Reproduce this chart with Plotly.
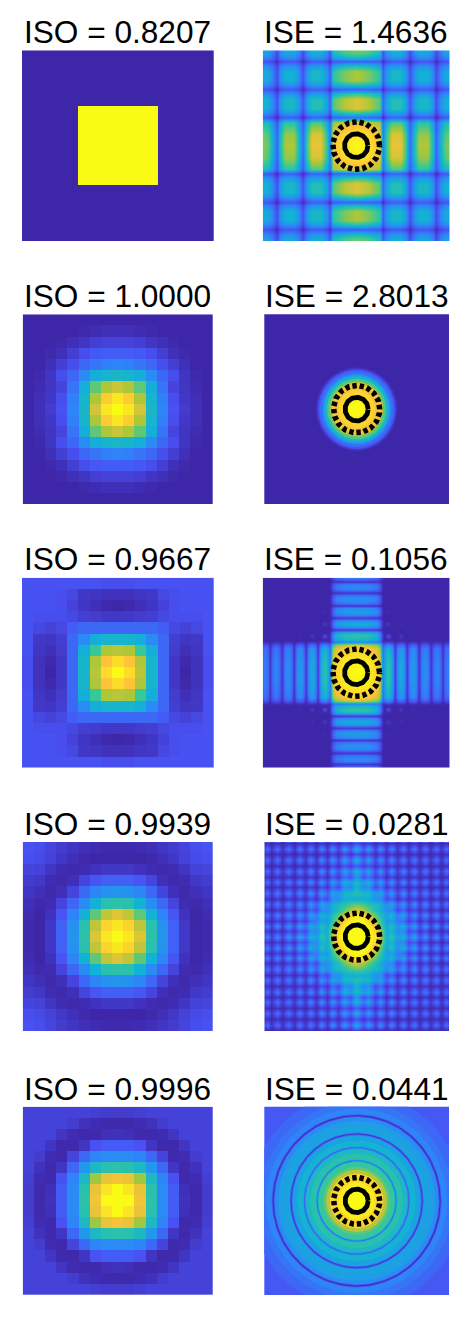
import numpy as np
import plotly.graph_objects as go
from plotly.colors import sample_colorscale

W = 474
H = 1322

iso_titles = ["ISO = 0.8207", "ISO = 1.0000", "ISO = 0.9667", "ISO = 0.9939", "ISO = 0.9996"]
ise_titles = ["ISE = 1.4636", "ISE = 2.8013", "ISE = 0.1056", "ISE = 0.0281", "ISE = 0.0441"]

parula = [
    [0.0, "#3e26a8"], [0.143, "#4852f4"], [0.286, "#2d87f7"], [0.429, "#12b1d6"],
    [0.571, "#37c897"], [0.714, "#abc739"], [0.857, "#fec338"], [1.0, "#f9fb15"],
]

# left column, one quadrant each (corner -> centre), mirrored when drawn
iso_1 = [
    [0, 0, 0, 0, 0, 0, 0, 0, 0],
    [0, 0, 0, 0, 0, 0, 0, 0, 0],
    [0, 0, 0, 0, 0, 0, 0, 0, 0],
    [0, 0, 0, 0, 0, 0, 0, 0, 0],
    [0, 0, 0, 0, 0, 0, 0, 0, 0],
    [0, 0, 0, 0, 0, 1, 1, 1, 1],
    [0, 0, 0, 0, 0, 1, 1, 1, 1],
    [0, 0, 0, 0, 0, 1, 1, 1, 1],
    [0, 0, 0, 0, 0, 1, 1, 1, 1],
]
iso_2 = [
    [0, 0, 0, 0, 0, 0, 0, 0, 0],
    [0, 0, 0, 0, 0, 0.01, 0.02, 0.03, 0.03],
    [0, 0, 0, 0.01, 0.03, 0.05, 0.08, 0.09, 0.09],
    [0, 0, 0.01, 0.03, 0.08, 0.13, 0.16, 0.17, 0.17],
    [0, 0, 0.03, 0.08, 0.13, 0.2, 0.24, 0.27, 0.28],
    [0, 0.01, 0.05, 0.13, 0.2, 0.3, 0.42, 0.45, 0.46],
    [0, 0.02, 0.05, 0.1, 0.24, 0.42, 0.62, 0.72, 0.76],
    [0, 0.03, 0.06, 0.13, 0.27, 0.45, 0.72, 0.88, 0.95],
    [0, 0.03, 0.07, 0.14, 0.28, 0.46, 0.78, 0.95, 1.0],
]
iso_3 = [
    [0.14, 0.14, 0.14, 0.14, 0.14, 0.14, 0.14, 0.13, 0.13],
    [0.14, 0.14, 0.14, 0.13, 0.11, 0.06, 0.05, 0.04, 0.04],
    [0.14, 0.14, 0.14, 0.13, 0.09, 0.05, 0.03, 0.01, 0.0],
    [0.14, 0.13, 0.13, 0.13, 0.11, 0.08, 0.07, 0.06, 0.06],
    [0.14, 0.11, 0.09, 0.11, 0.17, 0.2, 0.2, 0.2, 0.2],
    [0.14, 0.06, 0.05, 0.08, 0.2, 0.3, 0.42, 0.45, 0.45],
    [0.14, 0.05, 0.03, 0.07, 0.2, 0.42, 0.57, 0.72, 0.74],
    [0.13, 0.04, 0.01, 0.06, 0.2, 0.45, 0.72, 0.86, 0.92],
    [0.13, 0.04, 0.0, 0.06, 0.2, 0.45, 0.74, 0.92, 1.0],
]
iso_4 = [
    [0.14, 0.13, 0.1, 0.07, 0.05, 0.03, 0.02, 0.01, 0.01],
    [0.13, 0.12, 0.09, 0.06, 0.03, 0.01, 0.0, 0.0, 0.0],
    [0.1, 0.09, 0.05, 0.02, 0.01, 0.02, 0.04, 0.06, 0.06],
    [0.07, 0.06, 0.02, 0.01, 0.03, 0.1, 0.15, 0.18, 0.18],
    [0.05, 0.03, 0.01, 0.03, 0.1, 0.2, 0.28, 0.32, 0.33],
    [0.03, 0.01, 0.02, 0.1, 0.2, 0.3, 0.43, 0.52, 0.53],
    [0.02, 0.0, 0.04, 0.15, 0.28, 0.43, 0.62, 0.75, 0.8],
    [0.01, 0.0, 0.06, 0.18, 0.32, 0.52, 0.75, 0.9, 0.95],
    [0.01, 0.0, 0.06, 0.18, 0.33, 0.53, 0.8, 0.95, 1.0],
]
iso_5 = [
    [0.09, 0.09, 0.09, 0.09, 0.09, 0.09, 0.08, 0.07, 0.07],
    [0.09, 0.09, 0.09, 0.09, 0.07, 0.04, 0.02, 0.01, 0.01],
    [0.09, 0.09, 0.09, 0.05, 0.02, 0.01, 0.01, 0.03, 0.04],
    [0.09, 0.09, 0.05, 0.01, 0.01, 0.05, 0.14, 0.17, 0.17],
    [0.09, 0.07, 0.02, 0.01, 0.1, 0.2, 0.28, 0.3, 0.3],
    [0.09, 0.04, 0.01, 0.05, 0.2, 0.34, 0.47, 0.52, 0.53],
    [0.08, 0.02, 0.01, 0.14, 0.28, 0.47, 0.7, 0.82, 0.84],
    [0.07, 0.01, 0.03, 0.17, 0.3, 0.52, 0.82, 0.94, 1.0],
    [0.07, 0.01, 0.04, 0.17, 0.3, 0.53, 0.84, 1.0, 1.0],
]

# right column, first panel: centre -> edge
ise1_x = [0, 0.12, 0.25, 0.28, 0.32, 0.375, 0.475, 0.53, 0.57, 0.61, 0.665, 0.76, 0.815, 0.855, 0.895, 0.95, 1.0]
ise1_y = [0, 0.12, 0.25, 0.295, 0.335, 0.39, 0.49, 0.545, 0.59, 0.63, 0.685, 0.785, 0.84, 0.88, 0.92, 0.97, 1.0]
ise_1 = [
    [1, 0.95, 0.85, 0.25, 0.55, 0.82, 0.82, 0.58, 0.2, 0.48, 0.72, 0.72, 0.48, 0.18, 0.42, 0.63, 0.68],
    [0.95, 0.92, 0.82, 0.24, 0.53, 0.79, 0.79, 0.55, 0.19, 0.46, 0.69, 0.69, 0.46, 0.17, 0.4, 0.6, 0.65],
    [0.82, 0.78, 0.7, 0.2, 0.42, 0.6, 0.6, 0.44, 0.16, 0.36, 0.54, 0.54, 0.36, 0.14, 0.32, 0.47, 0.5],
    [0.2, 0.19, 0.16, 0.03, 0.12, 0.18, 0.18, 0.12, 0.03, 0.12, 0.16, 0.16, 0.12, 0.03, 0.11, 0.15, 0.16],
    [0.52, 0.48, 0.4, 0.12, 0.27, 0.35, 0.35, 0.28, 0.1, 0.25, 0.33, 0.33, 0.25, 0.09, 0.22, 0.3, 0.31],
    [0.8, 0.74, 0.6, 0.18, 0.37, 0.5, 0.5, 0.38, 0.15, 0.34, 0.46, 0.46, 0.34, 0.13, 0.3, 0.42, 0.44],
    [0.8, 0.74, 0.6, 0.18, 0.37, 0.5, 0.5, 0.38, 0.15, 0.34, 0.46, 0.46, 0.34, 0.13, 0.3, 0.42, 0.44],
    [0.55, 0.5, 0.42, 0.13, 0.27, 0.35, 0.35, 0.28, 0.1, 0.25, 0.33, 0.33, 0.25, 0.09, 0.22, 0.3, 0.31],
    [0.18, 0.18, 0.15, 0.03, 0.12, 0.17, 0.17, 0.12, 0.03, 0.12, 0.16, 0.16, 0.12, 0.03, 0.11, 0.15, 0.15],
    [0.48, 0.45, 0.38, 0.12, 0.25, 0.33, 0.33, 0.25, 0.1, 0.23, 0.3, 0.3, 0.23, 0.09, 0.2, 0.28, 0.29],
    [0.72, 0.66, 0.54, 0.16, 0.34, 0.46, 0.46, 0.35, 0.13, 0.31, 0.43, 0.43, 0.31, 0.12, 0.27, 0.4, 0.41],
    [0.72, 0.66, 0.54, 0.16, 0.34, 0.46, 0.46, 0.35, 0.13, 0.31, 0.43, 0.43, 0.31, 0.12, 0.27, 0.4, 0.41],
    [0.48, 0.45, 0.36, 0.12, 0.25, 0.33, 0.33, 0.25, 0.1, 0.23, 0.3, 0.3, 0.23, 0.09, 0.2, 0.28, 0.29],
    [0.17, 0.17, 0.15, 0.03, 0.11, 0.16, 0.16, 0.11, 0.03, 0.11, 0.15, 0.15, 0.11, 0.03, 0.1, 0.14, 0.14],
    [0.44, 0.4, 0.33, 0.11, 0.23, 0.3, 0.3, 0.23, 0.09, 0.21, 0.28, 0.28, 0.21, 0.08, 0.18, 0.26, 0.27],
    [0.62, 0.58, 0.47, 0.14, 0.3, 0.42, 0.42, 0.31, 0.12, 0.28, 0.39, 0.39, 0.28, 0.11, 0.25, 0.36, 0.37],
    [0.66, 0.62, 0.5, 0.15, 0.33, 0.44, 0.44, 0.33, 0.13, 0.3, 0.41, 0.41, 0.3, 0.12, 0.27, 0.38, 0.39],
]

# second and fifth panels are round: radius and level, outermost first
ise2_radii = [1.5, 0.44, 0.42, 0.4, 0.37, 0.35, 0.32, 0.29, 0.27, 0.2, 0.1, 0.08]
ise2_levels = [0, 0.05, 0.14, 0.22, 0.33, 0.45, 0.6, 0.72, 0.84, 0.9, 0.97, 1.0]
ise5_radii = [1.45, 1.15, 1.05, 0.98, 0.92, 0.91, 0.9, 0.89, 0.85, 0.8, 0.725, 0.715, 0.705, 0.695,
              0.64, 0.58, 0.572, 0.562, 0.55, 0.5, 0.44, 0.432, 0.424, 0.415, 0.36, 0.33, 0.29, 0.2, 0.1]
ise5_levels = [0.16, 0.2, 0.24, 0.28, 0.16, 0.02, 0.12, 0.3, 0.36, 0.38, 0.22, 0.05, 0.2, 0.38,
               0.44, 0.38, 0.16, 0.34, 0.47, 0.52, 0.42, 0.18, 0.42, 0.56, 0.62, 0.74, 0.9, 0.96, 1.0]

# third panel: the two arms of the cross and the small dots beside them
ise3_x = [0, 0.12, 0.22, 0.255, 0.285, 0.305, 0.34, 0.375, 0.41, 0.44, 0.475, 0.51, 0.54, 0.57, 0.607,
          0.64, 0.67, 0.7, 0.735, 0.77, 0.8, 0.825, 0.86, 0.895, 0.92, 0.945, 0.975, 1.0]
ise3_y = [0, 0.12, 0.25, 0.29, 0.325, 0.35, 0.39, 0.425, 0.45, 0.48, 0.515, 0.55, 0.58, 0.61, 0.645,
          0.68, 0.71, 0.74, 0.777, 0.81, 0.84, 0.87, 0.905, 0.935, 0.96, 0.985, 1.0]
ise3_arm_h = [
    [1, 0.98, 0.9, 0.85, 0.25, 0.42, 0.55, 0.42, 0.07, 0.34, 0.42, 0.34, 0.06, 0.3, 0.36, 0.3, 0.05, 0.27, 0.32, 0.27, 0.05, 0.24, 0.3, 0.24, 0.05, 0.22, 0.27, 0.23],
    [0.98, 0.97, 0.88, 0.8, 0.24, 0.41, 0.53, 0.41, 0.07, 0.33, 0.41, 0.33, 0.06, 0.29, 0.35, 0.29, 0.05, 0.26, 0.31, 0.26, 0.05, 0.23, 0.29, 0.23, 0.05, 0.21, 0.26, 0.22],
    [0.9, 0.88, 0.8, 0.7, 0.2, 0.35, 0.46, 0.35, 0.06, 0.28, 0.36, 0.28, 0.05, 0.25, 0.31, 0.25, 0.04, 0.23, 0.27, 0.23, 0.04, 0.2, 0.25, 0.2, 0.04, 0.18, 0.23, 0.19],
    [0.8, 0.75, 0.68, 0.55, 0.14, 0.22, 0.3, 0.22, 0.04, 0.17, 0.22, 0.17, 0.03, 0.15, 0.19, 0.15, 0.03, 0.14, 0.17, 0.14, 0.03, 0.12, 0.15, 0.12, 0.03, 0.11, 0.14, 0.12],
    [0.3, 0.28, 0.25, 0.2, 0.04, 0.05, 0.07, 0.05, 0.01, 0.04, 0.05, 0.04, 0.01, 0.03, 0.04, 0.03, 0, 0.03, 0.04, 0.03, 0, 0.03, 0.03, 0.03, 0, 0.02, 0.03, 0.03],
]
ise3_arm_v = [
    [0.46, 0.45, 0.38, 0.24, 0.03],
    [0.55, 0.53, 0.45, 0.3, 0.04],
    [0.46, 0.45, 0.38, 0.24, 0.03],
    [0.07, 0.07, 0.06, 0.04, 0.0],
    [0.34, 0.33, 0.28, 0.17, 0.01],
    [0.42, 0.41, 0.35, 0.21, 0.02],
    [0.34, 0.33, 0.28, 0.17, 0.01],
    [0.06, 0.06, 0.05, 0.03, 0.0],
    [0.3, 0.29, 0.25, 0.15, 0.01],
    [0.37, 0.36, 0.3, 0.18, 0.01],
    [0.3, 0.29, 0.25, 0.15, 0.01],
    [0.05, 0.05, 0.04, 0.03, 0.0],
    [0.27, 0.26, 0.22, 0.13, 0.01],
    [0.33, 0.32, 0.27, 0.16, 0.01],
    [0.27, 0.26, 0.22, 0.13, 0.01],
    [0.05, 0.05, 0.04, 0.03, 0.0],
    [0.25, 0.24, 0.2, 0.12, 0.01],
    [0.3, 0.3, 0.25, 0.15, 0.01],
    [0.25, 0.24, 0.2, 0.12, 0.01],
    [0.05, 0.05, 0.04, 0.03, 0.0],
    [0.2, 0.2, 0.16, 0.1, 0.01],
    [0.25, 0.24, 0.2, 0.12, 0.01],
]
ise3_dots_x = [0.34, 0.475, 0.607]
ise3_dots_y = [0.39, 0.515, 0.645]
ise3_dots = [
    [0.15, 0.07, 0.02],
    [0.07, 0.03, 0.0],
    [0.02, 0.0, 0.0],
]

# fourth panel: warped lattice
ise4_x = [0, 0.07, 0.13, 0.2, 0.26, 0.32, 0.38, 0.44, 0.5, 0.56, 0.62, 0.68, 0.74, 0.8, 0.86, 0.92, 0.97, 1.0]
ise4_y = [0, 0.055, 0.115, 0.17, 0.23, 0.28, 0.34, 0.4, 0.46, 0.52, 0.58, 0.635, 0.695, 0.75, 0.81, 0.87, 0.93, 0.985, 1.0]
ise_4 = [
    [1, 1, 1, 0.95, 0.75, 0.42, 0.55, 0.36, 0.47, 0.22, 0.42, 0.14, 0.36, 0.09, 0.33, 0.08, 0.3, 0.16],
    [1, 1, 1, 0.92, 0.72, 0.42, 0.45, 0.3, 0.3, 0.1, 0.18, 0.04, 0.12, 0.02, 0.09, 0.02, 0.08, 0.03],
    [1, 1, 0.98, 0.85, 0.62, 0.4, 0.52, 0.32, 0.44, 0.2, 0.39, 0.11, 0.35, 0.08, 0.32, 0.07, 0.29, 0.15],
    [1, 0.98, 0.9, 0.72, 0.55, 0.35, 0.38, 0.24, 0.22, 0.07, 0.15, 0.03, 0.11, 0.02, 0.09, 0.02, 0.08, 0.03],
    [0.95, 0.92, 0.78, 0.62, 0.5, 0.38, 0.47, 0.26, 0.4, 0.14, 0.36, 0.09, 0.33, 0.08, 0.3, 0.07, 0.28, 0.14],
    [0.78, 0.72, 0.62, 0.5, 0.42, 0.3, 0.3, 0.1, 0.2, 0.05, 0.13, 0.03, 0.1, 0.02, 0.08, 0.01, 0.07, 0.03],
    [0.62, 0.58, 0.52, 0.48, 0.44, 0.3, 0.42, 0.18, 0.37, 0.1, 0.33, 0.08, 0.31, 0.07, 0.28, 0.07, 0.27, 0.13],
    [0.42, 0.42, 0.42, 0.3, 0.3, 0.1, 0.18, 0.04, 0.12, 0.03, 0.09, 0.02, 0.08, 0.01, 0.07, 0.01, 0.06, 0.02],
    [0.52, 0.47, 0.47, 0.34, 0.41, 0.18, 0.37, 0.1, 0.34, 0.08, 0.31, 0.07, 0.29, 0.07, 0.27, 0.06, 0.26, 0.12],
    [0.45, 0.27, 0.32, 0.1, 0.2, 0.05, 0.13, 0.03, 0.09, 0.02, 0.08, 0.02, 0.07, 0.01, 0.06, 0.01, 0.06, 0.02],
    [0.5, 0.36, 0.45, 0.2, 0.39, 0.11, 0.36, 0.08, 0.32, 0.07, 0.3, 0.07, 0.28, 0.06, 0.26, 0.06, 0.25, 0.12],
    [0.34, 0.12, 0.22, 0.06, 0.14, 0.03, 0.1, 0.02, 0.08, 0.02, 0.07, 0.01, 0.06, 0.01, 0.06, 0.01, 0.06, 0.02],
    [0.48, 0.24, 0.41, 0.13, 0.36, 0.08, 0.34, 0.07, 0.31, 0.07, 0.28, 0.06, 0.26, 0.06, 0.25, 0.05, 0.24, 0.12],
    [0.18, 0.07, 0.14, 0.04, 0.11, 0.03, 0.08, 0.02, 0.07, 0.01, 0.06, 0.01, 0.06, 0.01, 0.05, 0.01, 0.05, 0.02],
    [0.46, 0.18, 0.39, 0.1, 0.35, 0.08, 0.32, 0.07, 0.29, 0.06, 0.27, 0.06, 0.25, 0.05, 0.24, 0.05, 0.24, 0.11],
    [0.14, 0.05, 0.11, 0.03, 0.09, 0.02, 0.07, 0.01, 0.06, 0.01, 0.06, 0.01, 0.05, 0.01, 0.05, 0.01, 0.05, 0.02],
    [0.44, 0.16, 0.37, 0.09, 0.33, 0.07, 0.3, 0.06, 0.27, 0.06, 0.26, 0.05, 0.24, 0.05, 0.23, 0.05, 0.23, 0.11],
    [0.12, 0.04, 0.07, 0.02, 0.06, 0.01, 0.05, 0.01, 0.05, 0.01, 0.05, 0.01, 0.04, 0.01, 0.04, 0.01, 0.04, 0.01],
    [0.26, 0.1, 0.22, 0.06, 0.22, 0.05, 0.22, 0.05, 0.21, 0.04, 0.2, 0.04, 0.19, 0.03, 0.18, 0.03, 0.18, 0.04],
]

# radii of the two black circles drawn on every right panel
solid_radius = 0.125
dashed_radius = 0.25

# panel boxes in window pixels: left, right, top, bottom
left_boxes = [(22, 213.7, 50.3, 241), (22.7, 213, 314.3, 504), (22, 213.7, 577.7, 767.7),
              (22.7, 213, 842, 1031.3), (22.7, 213, 1106.7, 1295)]
right_boxes = [(262.7, 449.7, 50.3, 241), (264.3, 449, 314.3, 504), (262.7, 449.7, 577.7, 767.7),
               (264.3, 449, 842, 1031.3), (264.3, 449, 1106.7, 1295)]
title_baselines = [43.7, 307.3, 570.7, 835, 1100]


def mirror_quadrant(q):
    # corner -> centre quadrant to the full square
    q = np.array(q)
    top = np.hstack([q, q[:, -2::-1]])
    return np.vstack([top, top[-2::-1]])


def mirror_centre(z, x, y):
    # centre -> edge quadrant to the full square
    z = np.array(z)
    right = np.hstack([z[:, :0:-1], z])
    full = np.vstack([right[:0:-1], right])
    xs = [-v for v in x[:0:-1]] + list(x)
    ys = [-v for v in y[:0:-1]] + list(y)
    return full, xs, ys


def circle_xy(r):
    t = np.linspace(0, 2 * np.pi, 181)
    return r * np.cos(t), r * np.sin(t)


def level_color(level):
    return sample_colorscale(parula, [level])[0]


def add_axes(fig, n, box):
    l, r, t, b = box
    name = "" if n == 1 else str(n)
    axis = dict(visible=False, showgrid=False, zeroline=False, fixedrange=True)
    fig.update_layout({
        "xaxis" + name: dict(axis, domain=[l / W, r / W], anchor="y" + name),
        "yaxis" + name: dict(axis, domain=[1 - b / H, 1 - t / H], anchor="x" + name),
    })
    return "x" + name, "y" + name


def add_discs(fig, radii, levels, xa, ya):
    for r, level in zip(radii, levels):
        x, y = circle_xy(r)
        fig.add_trace(go.Scatter(x=x, y=y, mode="lines", fill="toself", fillcolor=level_color(level),
                                 line=dict(width=0), hoverinfo="skip", xaxis=xa, yaxis=ya))


fig = go.Figure()

# left column
for i, q in enumerate([iso_1, iso_2, iso_3, iso_4, iso_5]):
    xa, ya = add_axes(fig, 2 * i + 1, left_boxes[i])
    fig.add_trace(go.Heatmap(z=mirror_quadrant(q), colorscale=parula, zmin=0, zmax=1, showscale=False,
                             hoverinfo="skip", xaxis=xa, yaxis=ya))
    fig.update_layout({xa.replace("x", "xaxis", 1) + "_range": [-0.5, 16.5],
                       ya.replace("y", "yaxis", 1) + "_range": [-0.5, 16.5]})

# third right panel is put together from its arms
ise_3 = np.zeros((len(ise3_y), len(ise3_x)))
ise_3[:5, :] = ise3_arm_h
ise_3[5:, :5] = ise3_arm_v
for row, yv in zip(ise3_dots, ise3_dots_y):
    for val, xv in zip(row, ise3_dots_x):
        ise_3[ise3_y.index(yv), ise3_x.index(xv)] = val

# right column
grids = {0: (ise_1, ise1_x, ise1_y), 2: (ise_3, ise3_x, ise3_y), 3: (ise_4, ise4_x, ise4_y)}
discs = {1: (ise2_radii, ise2_levels), 4: (ise5_radii, ise5_levels)}
for i in range(5):
    xa, ya = add_axes(fig, 2 * i + 2, right_boxes[i])
    if i in grids:
        z, x, y = mirror_centre(*grids[i])
        fig.add_trace(go.Heatmap(z=z, x=x, y=y, zsmooth="best", colorscale=parula, zmin=0, zmax=1,
                                 showscale=False, hoverinfo="skip", xaxis=xa, yaxis=ya))
    else:
        add_discs(fig, discs[i][0], discs[i][1], xa, ya)
    cx, cy = circle_xy(solid_radius)
    fig.add_trace(go.Scatter(x=cx, y=cy, mode="lines", line=dict(color="black", width=4.8),
                             hoverinfo="skip", xaxis=xa, yaxis=ya))
    cx, cy = circle_xy(dashed_radius)
    fig.add_trace(go.Scatter(x=cx, y=cy, mode="lines", line=dict(color="black", width=5.5, dash="4.4px,2.9px"),
                             hoverinfo="skip", xaxis=xa, yaxis=ya))
    fig.update_layout({xa.replace("x", "xaxis", 1) + "_range": [-1, 1],
                       ya.replace("y", "yaxis", 1) + "_range": [-1, 1]})

# titles
for i in range(5):
    for title, box in ((iso_titles[i], left_boxes[i]), (ise_titles[i], right_boxes[i])):
        fig.add_annotation(text=title, xref="paper", yref="paper", x=(box[0] + box[1]) / 2 / W,
                           y=1 - (title_baselines[i] + 7.5) / H, xanchor="center", yanchor="bottom",
                           showarrow=False, borderpad=0, font=dict(family="Liberation Sans", size=31.6, color="black"))

fig.update_layout(width=W, height=H, margin=dict(l=0, r=0, t=0, b=0), showlegend=False,
                  paper_bgcolor="white", plot_bgcolor="white")

fig.write_html("out.html", config={"displayModeBar": False},
               post_script="document.body.style.margin='0';document.body.style.overflow='hidden';")
